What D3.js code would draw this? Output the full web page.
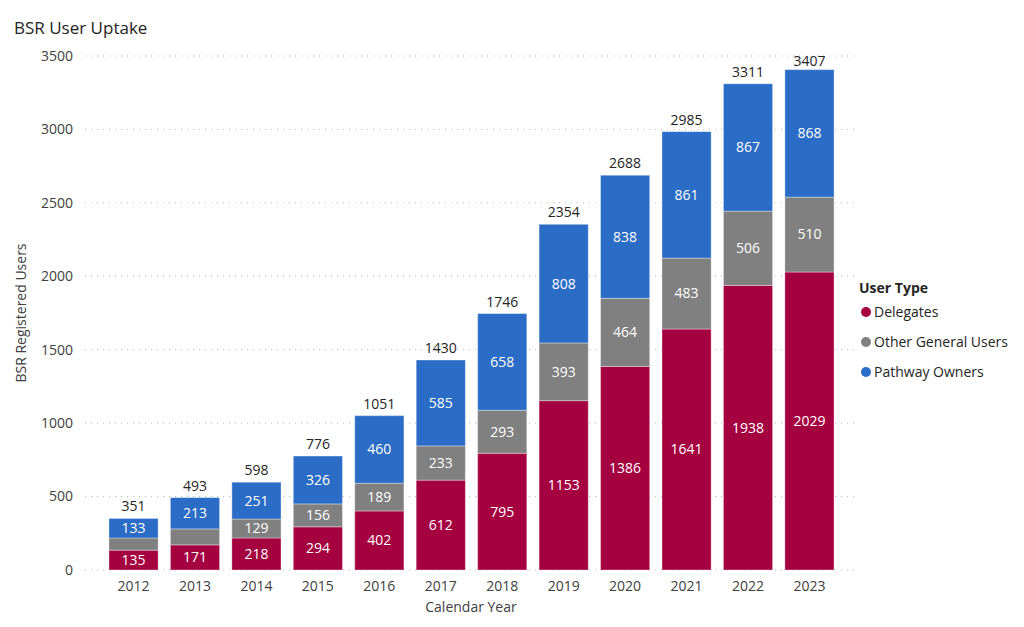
<!DOCTYPE html>
<html>
<head>
<meta charset="utf-8">
<script src="https://cdn.jsdelivr.net/npm/d3@7"></script>
<style>
  body { margin: 0; background: #fff; }
  text { font-family: "Open Sans", "Noto Sans", sans-serif; }
</style>
</head>
<body>
<svg id="chart"></svg>
<script>
// Years on the x axis
const years = ["2012", "2013", "2014", "2015", "2016", "2017", "2018", "2019", "2020", "2021", "2022", "2023"];

// Series values
const delegates = [135, 171, 218, 294, 402, 612, 795, 1153, 1386, 1641, 1938, 2029];
const otherUsers = [83, 109, 129, 156, 189, 233, 293, 393, 464, 483, 506, 510];
const pathwayOwners = [133, 213, 251, 326, 460, 585, 658, 808, 838, 861, 867, 868];

const seriesNames = ["Delegates", "Other General Users", "Pathway Owners"];
const yTicks = [0, 500, 1000, 1500, 2000, 2500, 3000, 3500];

const colors = {
    "Delegates": "#A50040",
    "Other General Users": "#808080",
    "Pathway Owners": "#2B6CC6"
};

const width = 1024;
const height = 627;

const svg = d3.select("#chart")
    .attr("width", width)
    .attr("height", height);

// Build rows for the stack
const rows = years.map((y, i) => ({
    year: y,
    "Delegates": delegates[i],
    "Other General Users": otherUsers[i],
    "Pathway Owners": pathwayOwners[i]
}));

const stack = d3.stack().keys(seriesNames);
const stacked = stack(rows);

const x = d3.scaleBand()
    .domain(years)
    .range([85, 858])
    .paddingInner(0.2)
    .paddingOuter(0.39);

const y = d3.scaleLinear()
    .domain([0, 3500])
    .range([570, 56]);

// Title
svg.append("text")
    .attr("x", 14)
    .attr("y", 34)
    .attr("font-size", 17)
    .attr("fill", "#252423")
    .text("BSR User Uptake");

// Gridlines (dotted)
svg.append("g")
    .selectAll("line")
    .data(yTicks)
    .enter().append("line")
    .attr("x1", 85)
    .attr("x2", 858)
    .attr("y1", d => y(d))
    .attr("y2", d => y(d))
    .attr("stroke", "#b8b6b4")
    .attr("stroke-width", 1)
    .attr("stroke-dasharray", "1,5");

// Y axis tick labels
svg.append("g")
    .selectAll("text")
    .data(yTicks)
    .enter().append("text")
    .attr("x", 73)
    .attr("y", d => y(d))
    .attr("dy", "0.35em")
    .attr("text-anchor", "end")
    .attr("font-size", 14)
    .attr("fill", "#404040")
    .text(d => d);

// Y axis title
svg.append("text")
    .attr("transform", `translate(26,${313}) rotate(-90)`)
    .attr("text-anchor", "middle")
    .attr("font-size", 14)
    .attr("fill", "#404040")
    .text("BSR Registered Users");

// X axis labels
svg.append("g")
    .selectAll("text")
    .data(years)
    .enter().append("text")
    .attr("x", d => x(d) + x.bandwidth() / 2)
    .attr("y", 591)
    .attr("text-anchor", "middle")
    .attr("font-size", 14)
    .attr("fill", "#404040")
    .text(d => d);

// X axis title
svg.append("text")
    .attr("x", 471)
    .attr("y", 612)
    .attr("text-anchor", "middle")
    .attr("font-size", 14)
    .attr("fill", "#404040")
    .text("Calendar Year");

// Bars
const layers = svg.append("g")
    .selectAll("g")
    .data(stacked)
    .enter().append("g")
    .attr("fill", d => colors[d.key]);

layers.selectAll("rect")
    .data(d => d)
    .enter().append("rect")
    .attr("x", d => x(d.data.year))
    .attr("y", d => y(d[1]))
    .attr("width", x.bandwidth())
    .attr("height", d => y(d[0]) - y(d[1]))
    .attr("stroke", "rgba(255,255,255,0.35)")
    .attr("stroke-width", 1);

// Value labels inside segments (skip segments too small to fit)
layers.selectAll("text")
    .data(d => d.map(s => ({ s: s, key: d.key })))
    .enter().append("text")
    .filter(d => y(d.s[0]) - y(d.s[1]) >= 17.5)
    .attr("x", d => x(d.s.data.year) + x.bandwidth() / 2)
    .attr("y", d => (y(d.s[0]) + y(d.s[1])) / 2)
    .attr("dy", "0.35em")
    .attr("text-anchor", "middle")
    .attr("font-size", 14)
    .attr("fill", "#ffffff")
    .text(d => d.s[1] - d.s[0]);

// Totals above bars
const topLayer = stacked[stacked.length - 1];
svg.append("g")
    .selectAll("text")
    .data(topLayer)
    .enter().append("text")
    .attr("x", d => x(d.data.year) + x.bandwidth() / 2)
    .attr("y", d => Math.max(y(d[1]) - 7, 66))
    .attr("text-anchor", "middle")
    .attr("font-size", 14)
    .attr("fill", "#252423")
    .text(d => d[1]);

// Legend
svg.append("text")
    .attr("x", 859)
    .attr("y", 293)
    .attr("font-size", 14)
    .attr("font-weight", "bold")
    .attr("fill", "#252423")
    .text("User Type");

const legend = svg.selectAll(".legend")
    .data(seriesNames)
    .enter().append("g")
    .attr("class", "legend")
    .attr("transform", (d, i) => `translate(866,${312 + i * 30})`);

legend.append("circle")
    .attr("r", 5)
    .attr("fill", d => colors[d]);

legend.append("text")
    .attr("x", 8)
    .attr("dy", "0.35em")
    .attr("font-size", 14)
    .attr("fill", "#252423")
    .text(d => d);
</script>
</body>
</html>
